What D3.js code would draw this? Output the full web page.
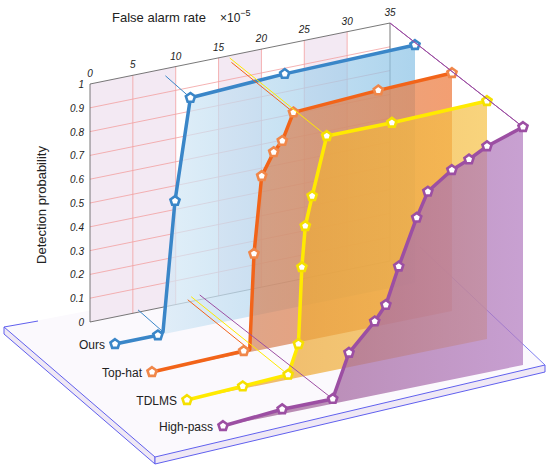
<!DOCTYPE html>
<html><head><meta charset="utf-8">
<script src="https://cdn.jsdelivr.net/npm/d3@7"></script>
<style>body{margin:0;background:#fff}text{font-family:"Liberation Sans",Arial,sans-serif;fill:#222}</style>
</head><body><svg id="c" width="550" height="474"></svg>
<script>
const seriesNames = ["Ours","Top-hat","TDLMS","High-pass"];
const oursX = [0,5,5.6,7,8.8,19.8,35];
const oursY = [0,0,0.01,0.55,0.97,0.99,1.0];
const oursM = [1,1,0,1,1,1,1];
const tophatX = [0,10.7,11.4,11.9,12.8,14.2,15.2,16.5,26.4,35];
const tophatY = [0,0.01,0.01,0.41,0.73,0.82,0.86,0.97,0.99,1.0];
const tophatM = [1,1,0,1,1,1,1,1,1,1];
const tdlmsX = [0,6.5,11.8,13,13.4,13.8,14.6,16.3,23.9,35];
const tdlmsY = [0,0.01,0.02,0.14,0.46,0.63,0.75,0.99,0.99,1.0];
const tdlmsM = [1,1,1,1,1,1,1,1,1,1];
const hpX = [0,6.9,12.8,14.7,17.7,19,20.5,22.6,23.9,26.7,28.7,30.8,35];
const hpY = [0,0.02,0.02,0.2,0.31,0.37,0.52,0.71,0.81,0.88,0.91,0.95,1.0];
const hpM = [1,1,1,1,1,1,1,1,1,1,1,1,1];
const xTicks = [0,5,10,15,20,25,30,35];
const yTicks = [0,0.1,0.2,0.3,0.4,0.5,0.6,0.7,0.8,0.9,1];

const svg = d3.select("#c");
const xs = d3.scaleLinear().domain([0,35]).range([90,390]);
const xSlope = d3.scaleLinear().domain([0,35]).range([0,-61]);
const ys = d3.scaleLinear().domain([0,1]).range([322,84]);
const depth = [[0,0],[25,22],[62,50],[97,78],[133,104]];
const P = (x,y,k)=>[xs(x)+depth[k][0], ys(y)+xSlope(x)+depth[k][1]];
const line = d3.line();

const series = [
 {x:oursX,y:oursY,m:oursM,c:"#3a86c8",mc:"#3a86c8",f1:"#e4f0f9",f2:"#8cc3e6"},
 {x:tophatX,y:tophatY,m:tophatM,c:"#f26419",mc:"#f0874a",f1:"#c98a6a",f2:"#ee7a3c"},
 {x:tdlmsX,y:tdlmsY,m:tdlmsM,c:"#ffea00",mc:"#f5e000",f1:"#e89a2e",f2:"#f6c34a"},
 {x:hpX,y:hpY,m:hpM,c:"#9c4fa3",mc:"#9c4fa3",f1:"#9a5a8c",f2:"#b37cc0"}
];

// base plate
const pc = "#6060ee";
const BL=[4,327], BR=[420,247], FR=[545,365], FL=[155,457], th=7;
svg.append("path").attr("d",line([BL,BR,FR,FL])+"Z").attr("fill","#fbf9fd").attr("stroke","none");
svg.append("path").attr("d",line([BL,FL,[FL[0],FL[1]+th],[BL[0],BL[1]+th]])+"Z").attr("fill","#efe8f5").attr("stroke",pc).attr("stroke-width",1);
svg.append("path").attr("d",line([FL,FR,[FR[0],FR[1]+th],[FL[0],FL[1]+th]])+"Z").attr("fill","#efe8f5").attr("stroke",pc).attr("stroke-width",1);
svg.append("path").attr("d",line([BL,[38,321]])).attr("stroke",pc).attr("fill","none");
svg.append("path").attr("d",line([FR,BR])).attr("stroke",pc).attr("stroke-width",0.8).attr("fill","none");

// back wall
const wall = svg.append("g");
wall.append("path").attr("d",line([P(0,0,0),P(35,0,0),P(35,1,0),P(0,1,0)])+"Z").attr("fill","#fff");
[[0,10],[15,20],[25,30]].forEach(([a,b])=>{
  wall.append("path").attr("d",line([P(a,0,0),P(b,0,0),P(b,1,0),P(a,1,0)])+"Z").attr("fill","#f3e9f3");
});
xTicks.slice(1,-1).forEach(t=>wall.append("path").attr("d",line([P(t,0,0),P(t,1,0)])).attr("stroke","#f2a0a0").attr("stroke-width",0.8));
yTicks.slice(1,-1).forEach(t=>wall.append("path").attr("d",line([P(0,t,0),P(35,t,0)])).attr("stroke","#f2a0a0").attr("stroke-width",0.8));
wall.append("path").attr("d",line([P(0,0,0),P(0,1,0),P(35,1,0),P(35,0,0),P(0,0,0)])).attr("stroke","#555").attr("stroke-width",0.8).attr("fill","none");
xTicks.forEach(t=>{const p=P(t,1,0);wall.append("text").attr("x",p[0]).attr("y",p[1]-7).attr("text-anchor","middle").attr("font-size",10).attr("font-style","italic").text(t);});
yTicks.forEach(t=>{const p=P(0,t,0);wall.append("text").attr("x",p[0]-6).attr("y",p[1]+4).attr("text-anchor","end").attr("font-size",10).attr("font-style","italic").text(t===0||t===1?t:t.toFixed(1));});
svg.append("text").attr("x",112).attr("y",22).attr("font-size",13).text("False alarm rate");
svg.append("text").attr("x",220).attr("y",22).attr("font-size",12).html('×10<tspan dy="-6" font-size="9">−5</tspan>');
svg.append("text").attr("transform","translate(46,205) rotate(-90)").attr("text-anchor","middle").attr("font-size",13).text("Detection probability");

// gradients
const defs = svg.append("defs");
series.forEach((s,i)=>{
  const g=defs.append("linearGradient").attr("id","g"+i).attr("x1","0").attr("x2","1").attr("y1","0").attr("y2","0");
  g.append("stop").attr("offset","0").attr("stop-color",s.f1);
  g.append("stop").attr("offset","1").attr("stop-color",s.f2);
});

function pentagon(cx,cy,r){const pts=d3.range(5).map(i=>{const a=-Math.PI/2+i*2*Math.PI/5;return [cx+r*Math.cos(a),cy+r*Math.sin(a)];});return line(pts)+"Z";}

series.forEach((s,i)=>{
  const k=i+1;
  const pts=s.x.map((x,j)=>P(x,s.y[j],k));
  const riseIdx = s.y.findIndex(v=>v>0.1)-1;
  const topIdx = s.y.findIndex(v=>v>=0.97);
  [riseIdx, topIdx].forEach(j=>{
    svg.append("path").attr("d",line([P(s.x[j],s.y[j],0),P(s.x[j],s.y[j],k)])).attr("stroke",s.c).attr("stroke-width",1).attr("fill","none");
  });
  if(i===3) svg.append("path").attr("d",line([P(35,1,0),P(35,1,k)])).attr("stroke",s.c).attr("stroke-width",1);
  const area=[...pts, P(35,0,k), P(s.x[0],0,k)];
  svg.append("path").attr("d",line(area)+"Z").attr("fill","url(#g"+i+")").attr("fill-opacity",0.72);
  svg.append("path").attr("d",line(pts)).attr("stroke",s.c).attr("stroke-width",3.5).attr("fill","none").attr("stroke-linejoin","round");
  pts.forEach((p,j)=>{ if(s.m[j]) svg.append("path").attr("d",pentagon(p[0],p[1],4.8)).attr("fill","#fff").attr("stroke",s.mc).attr("stroke-width",2.6); });
  const p0=P(0,0,k);
  svg.append("text").attr("x",p0[0]-10).attr("y",p0[1]+5).attr("text-anchor","end").attr("font-size",12).text(seriesNames[i]);
});
</script></body></html>
